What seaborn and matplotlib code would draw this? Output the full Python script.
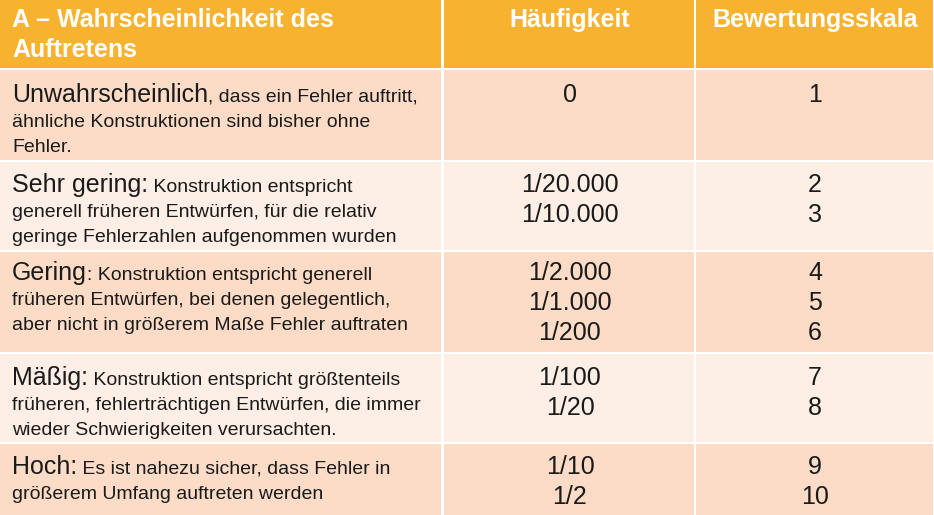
import matplotlib
matplotlib.use("Agg")
import matplotlib.pyplot as plt
import seaborn as sns
from matplotlib.patches import Rectangle

sns.set_theme(style="white")
plt.rcParams['font.family'] = ['Liberation Sans', 'DejaVu Sans']

headers = ["A – Wahrscheinlichkeit des", "Auftretens", "Häufigkeit", "Bewertungsskala"]
titles = ["Unwahrscheinlich", "Sehr gering:", "Gering", "Mäßig:", "Hoch:"]
descs = [
    [", dass ein Fehler auftritt,", "ähnliche Konstruktionen sind bisher ohne", "Fehler."],
    [" Konstruktion entspricht", "generell früheren Entwürfen, für die relativ", "geringe Fehlerzahlen aufgenommen wurden"],
    [": Konstruktion entspricht generell", "früheren Entwürfen, bei denen gelegentlich,", "aber nicht in größerem Maße Fehler auftraten"],
    [" Konstruktion entspricht größtenteils", "früheren, fehlerträchtigen Entwürfen, die immer", "wieder Schwierigkeiten verursachten."],
    [" Es ist nahezu sicher, dass Fehler in", "größerem Umfang auftreten werden"],
]
freqs = [["0"], ["1/20.000", "1/10.000"], ["1/2.000", "1/1.000", "1/200"], ["1/100", "1/20"], ["1/10", "1/2"]]
scales = [["1"], ["2", "3"], ["4", "5", "6"], ["7", "8"], ["9", "10"]]

W, H = 934, 515
row_tops = [70, 162, 252, 354, 444, 517]
col_edges = [0, 443, 695, 934]
header_col = "#F7B230"
row_cols = ["#FCDCC6", "#FDEEE6"]

fig = plt.figure(figsize=(W / 100, H / 100), dpi=100)
ax = fig.add_axes([0, 0, 1, 1])
ax.set_xlim(0, W); ax.set_ylim(H, 0); ax.axis("off")
fig.patch.set_facecolor("white")

for c in range(3):
    x0, x1 = col_edges[c], col_edges[c + 1]
    ax.add_patch(Rectangle((x0 + (1 if c else 0), 0), x1 - x0 - 2, 68, color=header_col, lw=0))
    for r in range(5):
        ax.add_patch(Rectangle((x0 + (1 if c else 0), row_tops[r]), x1 - x0 - 2,
                               row_tops[r + 1] - row_tops[r] - 2, color=row_cols[r % 2], lw=0))

hfs = 18
ax.text(12, 20, headers[0], color="white", fontsize=hfs, fontweight="bold", va="center", ha="left")
ax.text(12, 50, headers[1], color="white", fontsize=hfs, fontweight="bold", va="center", ha="left")
ax.text(570, 20, headers[2], color="white", fontsize=hfs, fontweight="bold", va="center", ha="center")
ax.text(815, 20, headers[3], color="white", fontsize=hfs, fontweight="bold", va="center", ha="center")

fig.canvas.draw()
renderer = fig.canvas.get_renderer()
tc = "#1a1a1a"
first_y = [102, 192, 280, 385, 474]
for r in range(5):
    y = first_y[r]
    t = ax.text(12, y, titles[r], fontsize=18, color=tc, va="baseline", ha="left")
    bb = t.get_window_extent(renderer)
    x_end = ax.transData.inverted().transform((bb.x1, 0))[0]
    for i, line in enumerate(descs[r]):
        if i == 0:
            ax.text(x_end, y, line, fontsize=14, color=tc, va="baseline", ha="left")
        else:
            ax.text(12, y + 25 * i, line, fontsize=14, color=tc, va="baseline", ha="left")
    for i, (f, s) in enumerate(zip(freqs[r], scales[r])):
        yy = y + 30 * i
        ax.text(570, yy, f, fontsize=18, color=tc, va="baseline", ha="center")
        ax.text(815, yy, s, fontsize=18, color=tc, va="baseline", ha="center")

fig.savefig("out.png", dpi=100)
